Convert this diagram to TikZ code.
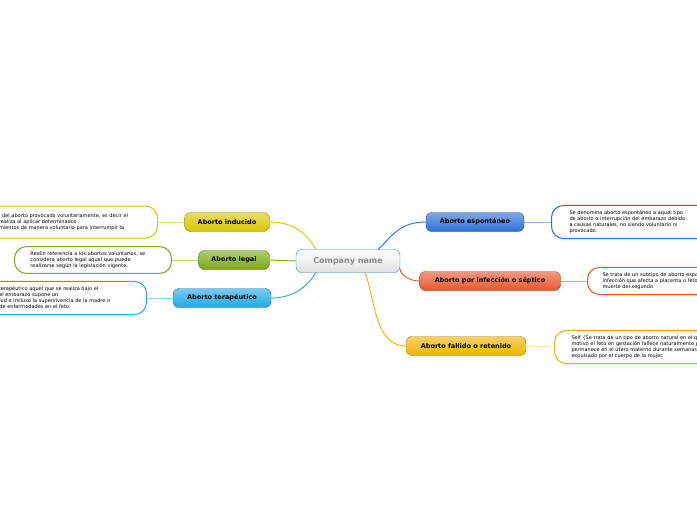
\documentclass[tikz,border=0pt]{standalone}
\usepackage{fontspec}
\setmainfont{DejaVu Sans}
\begin{document}
\begin{tikzpicture}[x=1pt,y=-1pt,
 main/.style={draw=#1!70!black,line width=0.4pt,rounded corners=6pt,top color=#1!60!white,bottom color=#1,font=\fontsize{6.5}{7}\selectfont\bfseries,inner sep=0pt,minimum height=19pt},
 tbox/.style={draw=#1,line width=1pt,rounded corners=12pt,fill=white,font=\fontsize{5}{6}\selectfont,align=left,inner ysep=5pt},
 conn/.style={draw=#1,line width=0.9pt},
 lnk/.style={draw=#1!50!white,line width=0.6pt}]
\useasboundingbox (0,0) rectangle (697,520);
\clip (0,0) rectangle (697,520);
\definecolor{cb}{HTML}{2A6FD6}\definecolor{co}{HTML}{E8562A}\definecolor{cf}{HTML}{F0B400}
\definecolor{ci}{HTML}{D9C400}\definecolor{cl}{HTML}{7AAA10}\definecolor{ct}{HTML}{20A8E8}
% center
\node[draw=ct!80!black,rounded corners=6pt,top color=white,bottom color=black!12,minimum width=104pt,minimum height=23pt,font=\fontsize{8}{9}\selectfont\bfseries,text=black!45] (c) at (348,261) {Company name};
% main nodes
\node[main=cb,minimum width=98pt] (m1) at (475,222) {Aborto espontáneo};
\node[main=co,minimum width=141pt] (m2) at (490,281) {Aborto por infección o séptico};
\node[main=cf,minimum width=120pt] (m3) at (466,346) {Aborto fallido o retenido};
\node[main=ci,minimum width=85pt] (m4) at (227,222) {Aborto inducido};
\node[main=cl,minimum width=71pt] (m5) at (234,260) {Aborto legal};
\node[main=ct,minimum width=98pt] (m6) at (222,298) {Aborto terapéutico};
% text boxes
\node[tbox=cb,anchor=west,text width=200pt,inner xsep=18pt] (t1) at (551,222) {Se denomina aborto espontáneo a aquel tipo\\de aborto o interrupción del embarazo debido\\a causas naturales, no siendo voluntario ni\\provocado.};
\node[tbox=co,anchor=west,text width=200pt,inner xsep=15pt] (t2) at (587,281) {Se trata de un subtipo de aborto espontáneo debido a una\\infección que afecta a placenta o feto y que genera la\\muerte del segundo};
\node[tbox=cf,anchor=west,text width=200pt,inner xsep=17pt] (t3) at (554,347) {Self \{Se trata de un tipo de aborto natural en el que por algún\\motivo el feto en gestación fallece naturalmente pero\\permanece en el útero materno durante semanas sin ser\\expulsado por el cuerpo de la mujer.};
\node[tbox=ci,anchor=east,text width=165pt,inner xsep=12pt,minimum height=32pt] (t4) at (158,222) {Se trata del aborto provocado voluntariamente, es decir el\\que se realiza al aplicar determinados\\procedimientos de manera voluntaria para interrumpir la};
\node[tbox=cl,anchor=east,text width=125pt,inner xsep=16pt] (t5) at (172,260) {ResEn referencia a los abortos voluntarios, se\\considera aborto legal aquel que puede\\realizarse según la legislación vigente.};
\node[tbox=ct,anchor=east,text width=175pt,inner xsep=14pt] (t6) at (147,298) {Se llama aborto terapéutico aquel que se realiza bajo el\\pretexto de que el embarazo supone un\\riesgo para la salud e incluso la supervivencia de la madre o\\por la presencia de enfermedades en el feto};
% connectors
\draw[conn=cb] (c.north east)+(-22,0) .. controls (392,236) and (400,222) .. (m1.west);
\draw[conn=co] (c.east)+(0,8) .. controls (400,275) and (410,281) .. (m2.west);
\draw[conn=cf] (c.south east)+(-35,0) .. controls (375,300) and (375,346) .. (m3.west);
\draw[conn=ci] (c.north west)+(20,0) .. controls (305,230) and (290,222) .. (m4.east);
\draw[conn=cl] (c.west) -- (m5.east);
\draw[conn=ct] (c.south west)+(20,0) .. controls (305,290) and (290,298) .. (m6.east);
\draw[lnk=cb] (m1.east) -- (t1.west);
\draw[lnk=co] (m2.east) -- (t2.west);
\draw[lnk=cf] (m3.east) -- (t3.west);
\draw[lnk=ci] (m4.west) -- (t4.east);
\draw[lnk=cl] (m5.west) -- (t5.east);
\draw[lnk=ct] (m6.west) -- (t6.east);
\end{tikzpicture}
\end{document}
